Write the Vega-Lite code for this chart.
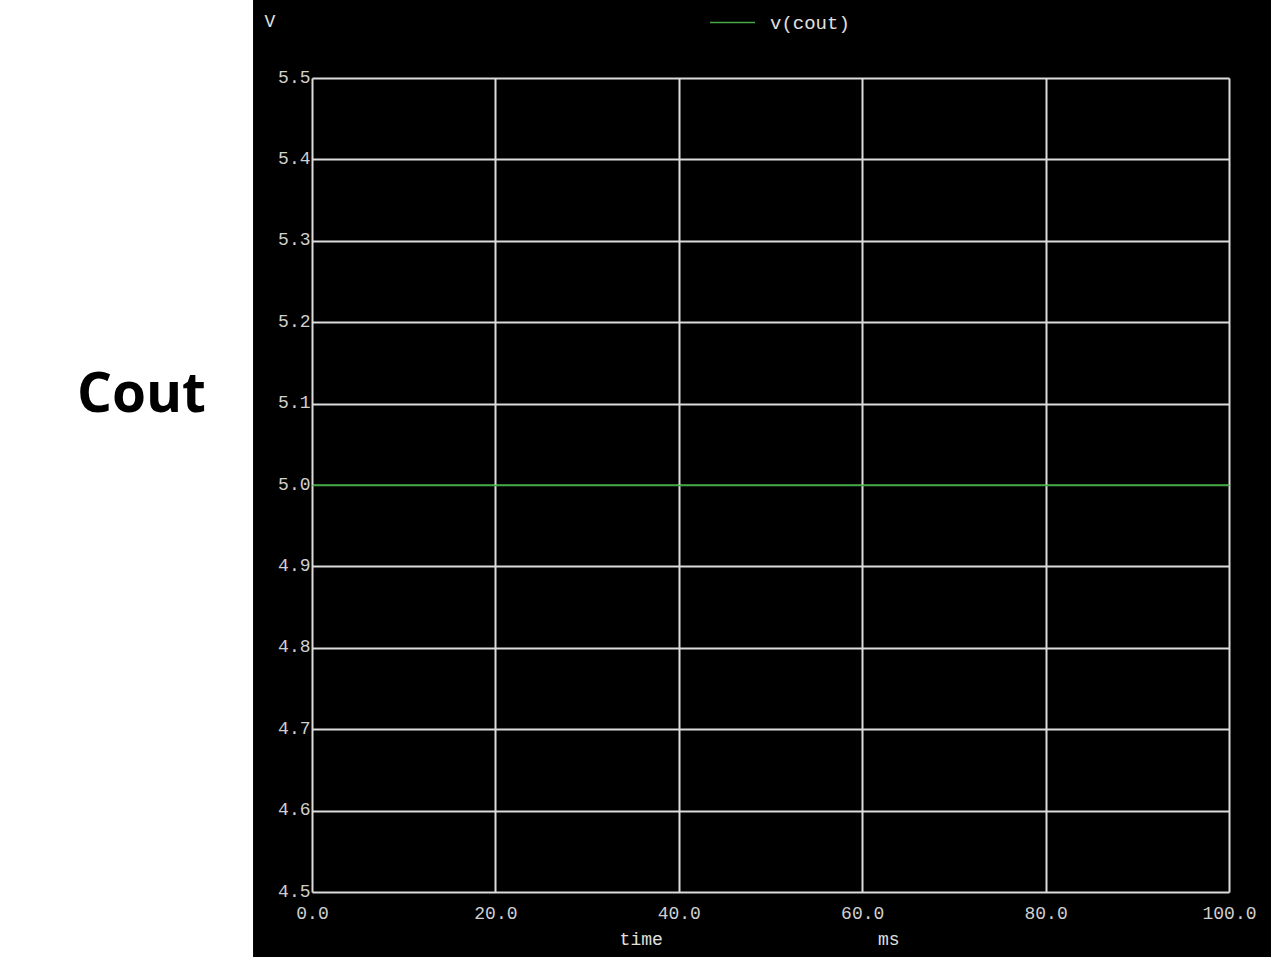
{
  "$schema": "https://vega.github.io/schema/vega-lite/v6.json",
  "autosize": "none",
  "width": 917,
  "height": 814,
  "padding": {"left": 312, "top": 78, "right": 51, "bottom": 74},
  "background": "white",
  "config": {"view": {"stroke": null}},
  "data": {
    "values": [
      {"time": 0, "voltage": 5.0, "series": "v(cout)"},
      {"time": 10, "voltage": 5.0, "series": "v(cout)"},
      {"time": 20, "voltage": 5.0, "series": "v(cout)"},
      {"time": 30, "voltage": 5.0, "series": "v(cout)"},
      {"time": 40, "voltage": 5.0, "series": "v(cout)"},
      {"time": 50, "voltage": 5.0, "series": "v(cout)"},
      {"time": 60, "voltage": 5.0, "series": "v(cout)"},
      {"time": 70, "voltage": 5.0, "series": "v(cout)"},
      {"time": 80, "voltage": 5.0, "series": "v(cout)"},
      {"time": 90, "voltage": 5.0, "series": "v(cout)"},
      {"time": 100, "voltage": 5.0, "series": "v(cout)"}
    ]
  },
  "layer": [
    {
      "data": {"values": [{"panel": "scope"}]},
      "mark": {"type": "rect", "fill": "black"},
      "encoding": {
        "x": {
          "datum": -6.43,
          "type": "quantitative",
          "scale": {"domain": [0, 100], "nice": false, "zero": false},
          "axis": {
            "values": [0, 20, 40, 60, 80, 100],
            "format": ".1f",
            "title": null,
            "domain": false,
            "ticks": false,
            "labelFont": "Liberation Mono",
            "labelFontSize": 18,
            "labelColor": "#d0d0d0",
            "labelPadding": 12,
            "labelFlush": false,
            "grid": true,
            "gridColor": "#dcdcdc",
            "gridWidth": 2,
            "gridOpacity": 1,
            "zindex": 1
          }
        },
        "x2": {"datum": 104.58},
        "y": {
          "datum": 5.596,
          "type": "quantitative",
          "scale": {"domain": [4.5, 5.5], "nice": false, "zero": false},
          "axis": {
            "values": [4.5, 4.6, 4.7, 4.8, 4.9, 5.0, 5.1, 5.2, 5.3, 5.4, 5.5],
            "format": ".1f",
            "title": null,
            "domain": false,
            "ticks": false,
            "labelFont": "Liberation Mono",
            "labelFontSize": 18,
            "labelColor": "#d0d0d0",
            "labelPadding": 2,
            "labelOffset": -1,
            "grid": true,
            "gridColor": {
              "condition": {"test": "abs(datum.value - 5) < 0.0001", "value": "#43a843"},
              "value": "#dcdcdc"
            },
            "gridWidth": {
              "condition": {"test": "abs(datum.value - 5) < 0.0001", "value": 1.5},
              "value": 2
            },
            "gridOpacity": 1,
            "zindex": 1
          }
        },
        "y2": {"datum": 4.42}
      }
    },
    {
      "mark": {"type": "line", "strokeWidth": 1.5},
      "encoding": {
        "x": {"field": "time", "type": "quantitative"},
        "y": {"field": "voltage", "type": "quantitative"},
        "color": {
          "field": "series",
          "type": "nominal",
          "scale": {"range": ["#43a843"]},
          "legend": {
            "orient": "none",
            "legendX": 397,
            "legendY": -79,
            "direction": "horizontal",
            "title": null,
            "symbolType": "stroke",
            "symbolSize": 2025,
            "symbolStrokeWidth": 1.5,
            "labelFont": "Liberation Mono",
            "labelFontSize": 19,
            "labelColor": "#e0e0e0",
            "labelOffset": 14,
            "padding": 0
          }
        }
      }
    },
    {
      "data": {"values": [{"label": "Cout"}]},
      "mark": {"type": "text", "font": "Open Sans", "fontWeight": "bold", "fontSize": 55, "color": "black", "align": "center", "baseline": "middle"},
      "encoding": {
        "x": {"datum": -18.6, "type": "quantitative"},
        "y": {"datum": 5.11, "type": "quantitative"},
        "text": {"field": "label"}
      }
    },
    {
      "data": {"values": [{"label": "time", "pos": 35.9}, {"label": "ms", "pos": 62.9}]},
      "mark": {"type": "text", "font": "Liberation Mono", "fontSize": 18, "color": "#e0e0e0", "align": "center", "baseline": "middle"},
      "encoding": {
        "x": {"field": "pos", "type": "quantitative"},
        "y": {"datum": 4.441, "type": "quantitative"},
        "text": {"field": "label"}
      }
    },
    {
      "data": {"values": [{"label": "V"}]},
      "mark": {"type": "text", "font": "Liberation Mono", "fontSize": 18, "color": "#e0e0e0", "align": "center", "baseline": "middle"},
      "encoding": {
        "x": {"datum": -4.6, "type": "quantitative"},
        "y": {"datum": 5.569, "type": "quantitative"},
        "text": {"field": "label"}
      }
    }
  ]
}
